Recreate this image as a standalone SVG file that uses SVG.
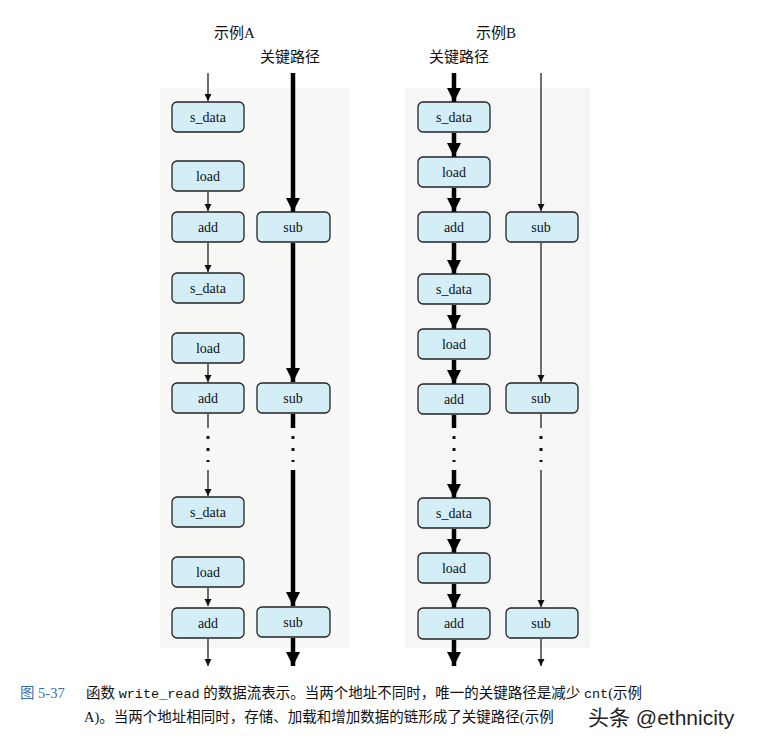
<svg xmlns="http://www.w3.org/2000/svg" width="780" height="745" viewBox="0 0 780 745">
<style>
.box rect{fill:#d4eef8;stroke:#222;stroke-width:1.3}
.t{font-family:"Liberation Serif",serif;font-size:14px;fill:#111;text-anchor:middle}
.c{font-family:"Liberation Serif","Noto Sans CJK SC",serif;font-size:15px;fill:#111}
.cap{font-family:"Liberation Serif","Noto Sans CJK SC",serif;font-size:14.5px;fill:#111}
.thin{stroke:#111;stroke-width:1.2;fill:none}
.thick{stroke:#000;stroke-width:4.5;fill:none}
.dot{stroke:#111;stroke-width:3;stroke-dasharray:3 9;fill:none}
</style>
<defs>
<marker id="a1" viewBox="0 0 10 10" refX="10" refY="5" markerWidth="7" markerHeight="9" markerUnits="userSpaceOnUse" orient="auto"><path d="M0,0L10,5L0,10z" fill="#111"/></marker>
<marker id="a2" viewBox="0 0 10 10" refX="10" refY="5" markerWidth="17" markerHeight="14" markerUnits="userSpaceOnUse" orient="auto"><path d="M0,0L10,5L0,10z" fill="#000"/></marker>
</defs>
<rect width="780" height="745" fill="#fff"/>
<rect x="160" y="88" width="190" height="560" fill="#f8f8f6"/>
<rect x="405" y="88" width="185" height="560" fill="#f6f6f6"/>
<text class="c" x="214" y="38">示例A</text>
<text class="c" x="260" y="62">关键路径</text>
<text class="c" x="476" y="38">示例B</text>
<text class="c" x="429" y="62">关键路径</text>
<g id="connectors">
<path class="thin" d="M208,73V101" marker-end="url(#a1)"/>
<path class="thin" d="M208,192V211" marker-end="url(#a1)"/>
<path class="thin" d="M208,243V272" marker-end="url(#a1)"/>
<path class="thin" d="M208,364V382" marker-end="url(#a1)"/>
<path class="thin" d="M208,414V428"/>
<path class="dot" d="M208,436V462"/>
<path class="thin" d="M208,470V496" marker-end="url(#a1)"/>
<path class="thin" d="M208,588V606" marker-end="url(#a1)"/>
<path class="thin" d="M208,639V666" marker-end="url(#a1)"/>
<path class="thick" d="M293,73V212" marker-end="url(#a2)"/>
<path class="thick" d="M293,243V382" marker-end="url(#a2)"/>
<path class="thick" d="M293,414V428"/>
<path class="dot" d="M293,436V462"/>
<path class="thick" d="M293,470V606" marker-end="url(#a2)"/>
<path class="thick" d="M293,638V666" marker-end="url(#a2)"/>
<path class="thick" d="M454,73V102" marker-end="url(#a2)"/>
<path class="thick" d="M454,133V157" marker-end="url(#a2)"/>
<path class="thick" d="M454,188V212" marker-end="url(#a2)"/>
<path class="thick" d="M454,243V274" marker-end="url(#a2)"/>
<path class="thick" d="M454,305V329" marker-end="url(#a2)"/>
<path class="thick" d="M454,360V384" marker-end="url(#a2)"/>
<path class="thick" d="M454,415V428"/>
<path class="dot" d="M454,436V462"/>
<path class="thick" d="M454,470V498" marker-end="url(#a2)"/>
<path class="thick" d="M454,529V553" marker-end="url(#a2)"/>
<path class="thick" d="M454,584V608" marker-end="url(#a2)"/>
<path class="thick" d="M454,640V666" marker-end="url(#a2)"/>
<path class="thin" d="M541,73V211" marker-end="url(#a1)"/>
<path class="thin" d="M541,243V382" marker-end="url(#a1)"/>
<path class="thin" d="M541,414V428"/>
<path class="dot" d="M541,436V462"/>
<path class="thin" d="M541,470V607" marker-end="url(#a1)"/>
<path class="thin" d="M541,639V666" marker-end="url(#a1)"/>
</g>
<g id="a_sdata1" class="box"><rect x="172" y="102" width="72" height="30" rx="5"/><text class="t" x="208" y="122">s_data</text></g>
<g id="a_load1" class="box"><rect x="172" y="161" width="72" height="30" rx="5"/><text class="t" x="208" y="181">load</text></g>
<g id="a_add1" class="box"><rect x="172" y="212" width="72" height="30" rx="5"/><text class="t" x="208" y="232">add</text></g>
<g id="a_sdata2" class="box"><rect x="172" y="273" width="72" height="30" rx="5"/><text class="t" x="208" y="293">s_data</text></g>
<g id="a_load2" class="box"><rect x="172" y="333" width="72" height="30" rx="5"/><text class="t" x="208" y="353">load</text></g>
<g id="a_add2" class="box"><rect x="172" y="383" width="72" height="30" rx="5"/><text class="t" x="208" y="403">add</text></g>
<g id="a_sdata3" class="box"><rect x="172" y="497" width="72" height="30" rx="5"/><text class="t" x="208" y="517">s_data</text></g>
<g id="a_load3" class="box"><rect x="172" y="557" width="72" height="30" rx="5"/><text class="t" x="208" y="577">load</text></g>
<g id="a_add3" class="box"><rect x="172" y="608" width="72" height="30" rx="5"/><text class="t" x="208" y="628">add</text></g>
<g id="a_sub1" class="box"><rect x="257" y="212" width="73" height="30" rx="5"/><text class="t" x="293" y="232">sub</text></g>
<g id="a_sub2" class="box"><rect x="257" y="383" width="73" height="30" rx="5"/><text class="t" x="293" y="403">sub</text></g>
<g id="a_sub3" class="box"><rect x="257" y="607" width="73" height="30" rx="5"/><text class="t" x="293" y="627">sub</text></g>
<g id="b_sdata1" class="box"><rect x="418" y="102" width="72" height="30" rx="5"/><text class="t" x="454" y="122">s_data</text></g>
<g id="b_load1" class="box"><rect x="418" y="157" width="72" height="30" rx="5"/><text class="t" x="454" y="177">load</text></g>
<g id="b_add1" class="box"><rect x="418" y="212" width="72" height="30" rx="5"/><text class="t" x="454" y="232">add</text></g>
<g id="b_sdata2" class="box"><rect x="418" y="274" width="72" height="30" rx="5"/><text class="t" x="454" y="294">s_data</text></g>
<g id="b_load2" class="box"><rect x="418" y="329" width="72" height="30" rx="5"/><text class="t" x="454" y="349">load</text></g>
<g id="b_add2" class="box"><rect x="418" y="384" width="72" height="30" rx="5"/><text class="t" x="454" y="404">add</text></g>
<g id="b_sdata3" class="box"><rect x="418" y="498" width="72" height="30" rx="5"/><text class="t" x="454" y="518">s_data</text></g>
<g id="b_load3" class="box"><rect x="418" y="553" width="72" height="30" rx="5"/><text class="t" x="454" y="573">load</text></g>
<g id="b_add3" class="box"><rect x="418" y="608" width="72" height="31" rx="5"/><text class="t" x="454" y="628">add</text></g>
<g id="b_sub1" class="box"><rect x="506" y="212" width="72" height="30" rx="5"/><text class="t" x="541" y="232">sub</text></g>
<g id="b_sub2" class="box"><rect x="506" y="383" width="72" height="30" rx="5"/><text class="t" x="541" y="403">sub</text></g>
<g id="b_sub3" class="box"><rect x="506" y="608" width="72" height="30" rx="5"/><text class="t" x="541" y="628">sub</text></g>
<text class="cap" x="20" y="698" style="fill:#3a6fa8">图 5-37</text>
<text class="cap" x="86" y="698">函数 <tspan font-family="Liberation Mono" font-size="13.5">write_read</tspan> 的数据流表示。当两个地址不同时，唯一的关键路径是减少 <tspan font-family="Liberation Mono" font-size="13.5">cnt</tspan>(示例</text>
<text class="cap" x="84" y="722">A)。当两个地址相同时，存储、加载和增加数据的链形成了关键路径(示例</text>
<text x="588" y="725" style="font-family:'Liberation Sans','Noto Sans CJK SC',sans-serif;font-size:21px;fill:#222">头条 @ethnicity</text>
</svg>
